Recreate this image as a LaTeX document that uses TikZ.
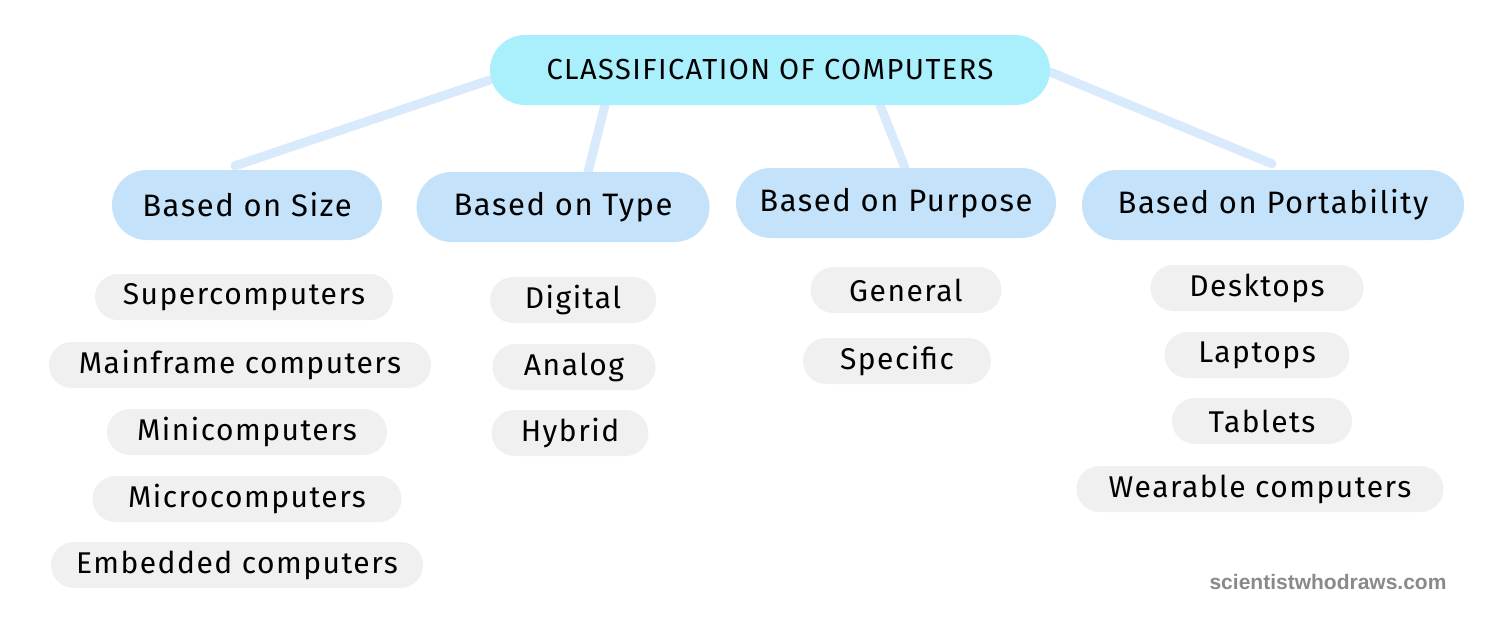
\documentclass[tikz,border=0pt]{standalone}
\usepackage{fontspec}
\setmainfont{Fira Sans}[LetterSpace=5]
\newfontfamily\wmfont{Liberation Sans}[BoldFont={Liberation Sans Bold}]
\usetikzlibrary{calc,backgrounds}
\definecolor{titlefill}{HTML}{AAEFFC}
\definecolor{catfill}{HTML}{C4E2FA}
\definecolor{leaffill}{HTML}{F0F0F0}
\definecolor{linkcol}{HTML}{D8EAFB}
\definecolor{wmcol}{HTML}{8A8A8A}
\tikzset{
  x=1pt, y=-1pt,
  titlebox/.style={fill=titlefill, rounded corners=35pt, minimum width=560pt, minimum height=70pt, inner sep=0pt, font=\fontsize{29}{32}\selectfont},
  catbox/.style={fill=catfill, rounded corners=35pt, minimum height=70pt, inner sep=0pt, font=\fontsize{31}{34}\selectfont},
  leafbox/.style={fill=leaffill, rounded corners=23pt, minimum height=46pt, inner sep=0pt, font=\fontsize{30}{33}\selectfont},
  link/.style={draw=linkcol, line width=9pt, line cap=round},
}
\begin{document}
\begin{tikzpicture}
\useasboundingbox (0,0) rectangle (1500,629);

\node[titlebox] (title) at (770,70) {CLASSIFICATION OF COMPUTERS};

\node[catbox, minimum width=270pt] (size) at (247,205) {Based on Size};
\node[catbox, minimum width=293pt] (type) at (563,207) {Based on Type};
\node[catbox, minimum width=320pt] (purpose) at (896,203) {Based on Purpose};
\node[catbox, minimum width=382pt] (port) at (1273,205) {Based on Portability};

\begin{scope}[on background layer]
\fill[white] (0,0) rectangle (1500,629);
\draw[link] ([yshift=-10pt]title.west) -- ([xshift=-12pt,yshift=4pt]size.north);
\draw[link] ([xshift=-165pt]title.south) -- ([xshift=25pt]type.north);
\draw[link] ([xshift=110pt]title.south) -- ([xshift=9pt]purpose.north);
\draw[link] ([yshift=-2pt]title.east) -- ([xshift=-1pt,yshift=6pt]port.north);
\end{scope}

\node[leafbox, minimum width=298pt] (super) at (244,297) {Supercomputers};
\node[leafbox, minimum width=382pt] (main) at (240,365) {Mainframe computers};
\node[leafbox, minimum width=280pt] (mini) at (247,432) {Minicomputers};
\node[leafbox, minimum width=309pt] (micro) at (247,499) {Microcomputers};
\node[leafbox, minimum width=372pt] (emb) at (237,565) {Embedded computers};

\node[leafbox, minimum width=166pt] (dig) at (573,300) {Digital};
\node[leafbox, minimum width=163pt] (ana) at (574,367) {Analog};
\node[leafbox, minimum width=157pt] (hyb) at (570,433) {Hybrid};

\node[leafbox, minimum width=191pt] (gen) at (906,290) {General};
\node[leafbox, minimum width=188pt] (spec) at (897,361) {Specific};

\node[leafbox, minimum width=213pt] (desk) at (1257,288) {Desktops};
\node[leafbox, minimum width=185pt] (lap) at (1257,355) {Laptops};
\node[leafbox, minimum width=180pt] (tab) at (1262,421) {Tablets};
\node[leafbox, minimum width=367pt] (wear) at (1260,489) {Wearable computers};

\node[font=\wmfont\bfseries\fontsize{21}{24}\selectfont, text=wmcol] (wm) at (1328,582) {scientistwhodraws.com};
\end{tikzpicture}
\end{document}
